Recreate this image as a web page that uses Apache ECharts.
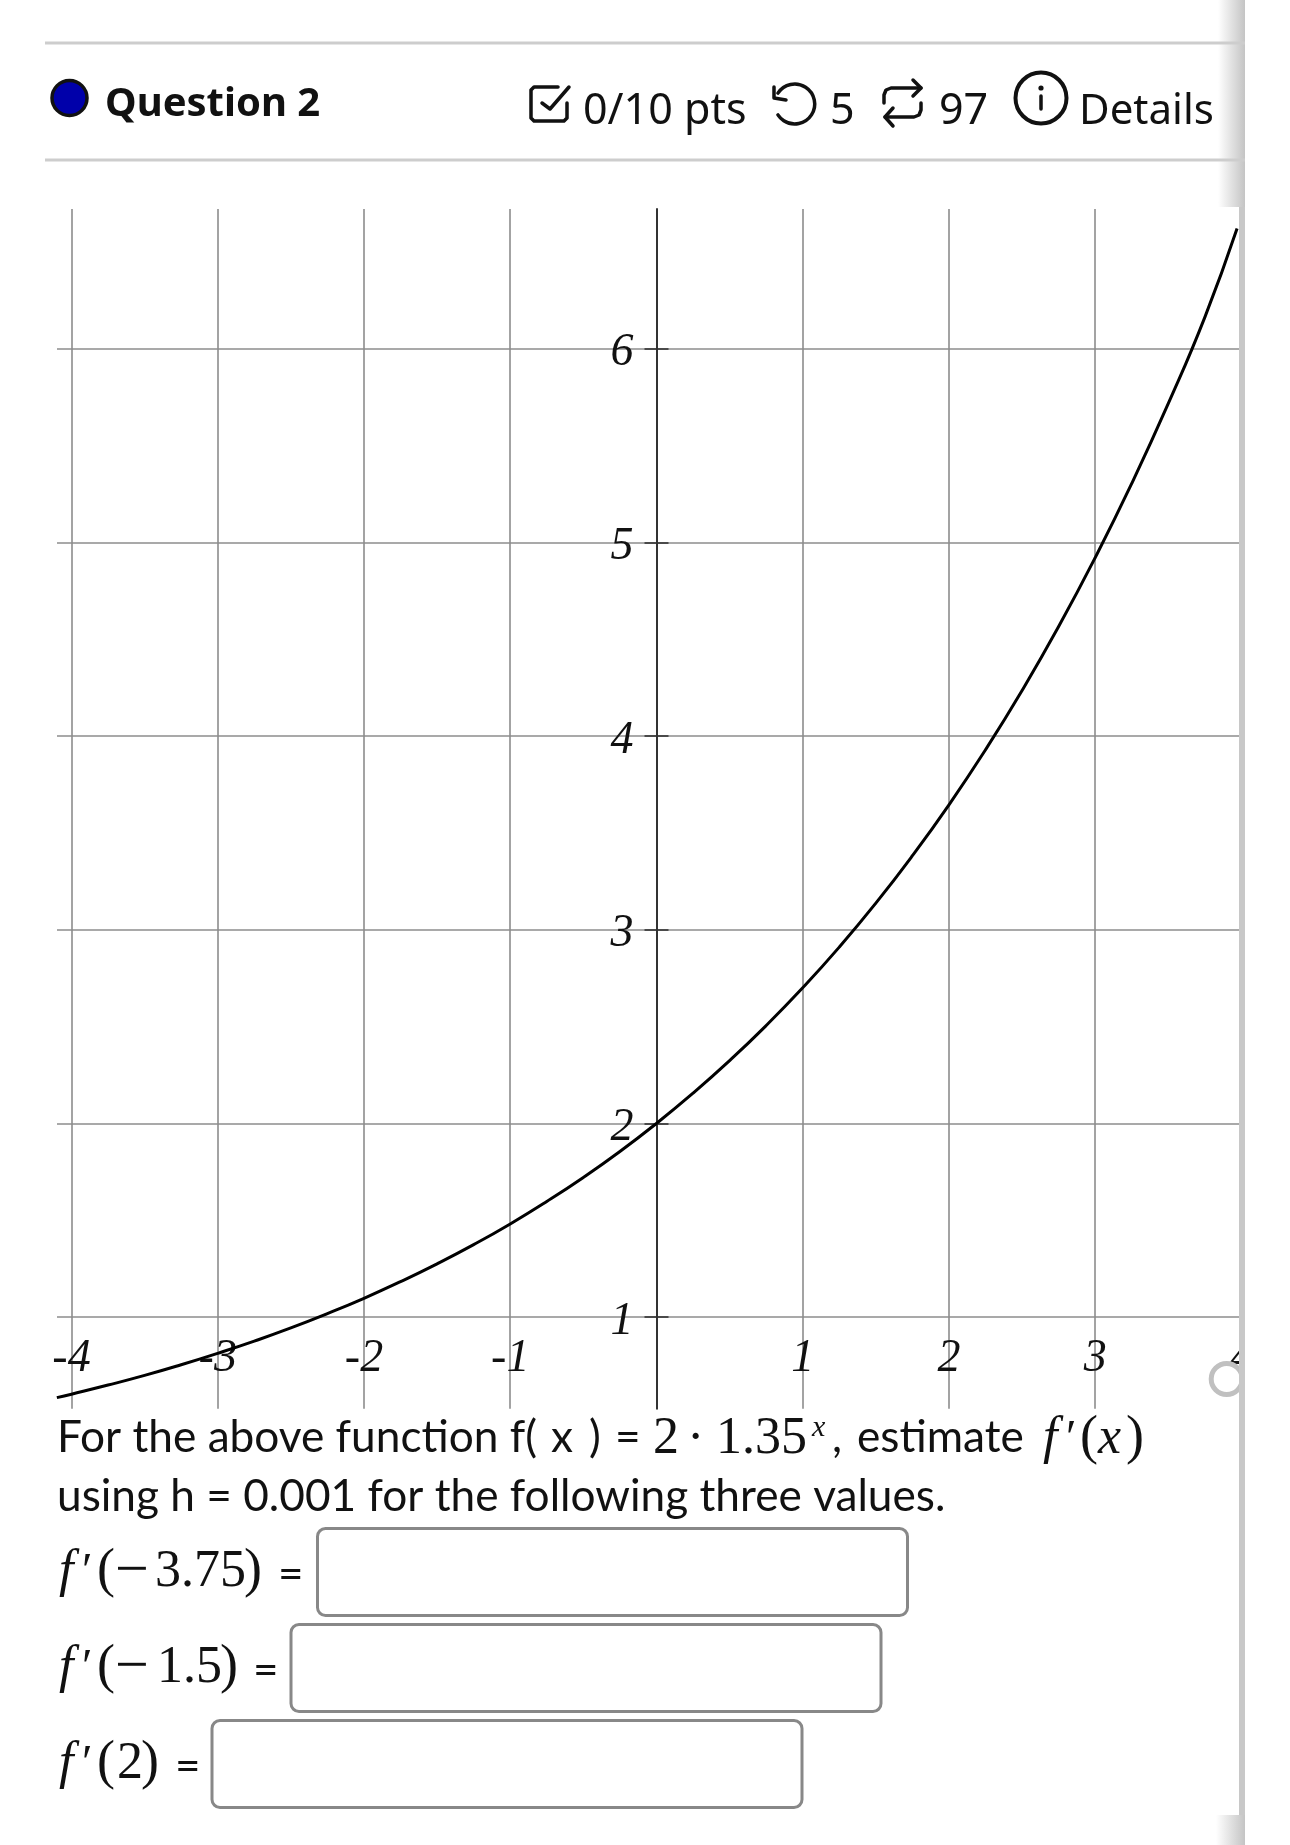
<!DOCTYPE html>
<html>
<head>
<meta charset="utf-8">
<style>html,body{margin:0;padding:0;background:#fff}#c{width:1290px;height:1845px}</style>
<script src="https://cdn.jsdelivr.net/npm/echarts@6/dist/echarts.min.js"></script>
</head>
<body>
<div id="c"></div>
<script>
const curveX = [-4.1,-4,-3.75,-3.5,-3.25,-3,-2.75,-2.5,-2.25,-2,-1.75,-1.5,-1.25,-1,-0.75,-0.5,-0.25,0,0.25,0.5,0.75,1,1.25,1.5,1.75,2,2.25,2.5,2.75,3,3.25,3.5,3.75,3.97];
const curveY = [0.584,0.602,0.649,0.699,0.754,0.813,0.876,0.944,1.018,1.097,1.183,1.275,1.374,1.481,1.597,1.721,1.855,2.000,2.156,2.324,2.505,2.700,2.910,3.137,3.382,3.645,3.929,4.235,4.565,4.921,5.304,5.717,6.163,6.620];
const xGridValues = [-4,-3,-2,-1,0,1,2,3,4];
const xLabelValues = [-4,-3,-2,-1,1,2,3,4];
const yGridValues = [1,2,3,4,5,6];

const UI = '"Noto Sans"', BODY = 'Lato', MATH = '"Liberation Serif"';
const Z = 50;
function t(text, x, baseline, size, font, opts) {
  opts = opts || {};
  const k = opts.k || (font === MATH ? 0.26 : 0.34);
  return {type:'text', z:Z, x:x, y:baseline - size*k,
    style:{text:text, font:(opts.style||'')+' '+(opts.weight||'')+' '+size+'px '+font, fill:'#111',
      textAlign:opts.align||'left', verticalAlign:'middle'}};
}
function icon(points, w) {
  return {type:'polyline', z:Z, shape:{points:points}, style:{fill:'none', stroke:'#111', lineWidth:w||3.5, lineCap:'round', lineJoin:'round'}};
}
function rule(y) {
  return {type:'rect', z:Z, shape:{x:45,y:y-1.5,width:1200,height:3}, style:{fill:'#cdcdcd'}};
}
function box(x,y,w,h) {
  return {type:'rect', z:Z, shape:{x:x,y:y,width:w,height:h,r:8}, style:{fill:'#fff',stroke:'#888',lineWidth:3}};
}
function fade(x,y,w,h) {
  return {type:'rect', z:Z-1, shape:{x:x,y:y,width:w,height:h},
    style:{fill:new echarts.graphic.LinearGradient(0,0,1,0,[{offset:0,color:'#ffffff'},{offset:1,color:'#c4c4c4'}])}};
}
function fPrime(b) {
  return [t('f', 59, b, 52, MATH, {style:'italic'}), t('′', 82, b, 48, MATH), t('(', 97, b, 54, MATH)];
}
const graphics = [
  {type:'rect', z:Z-2, shape:{x:1239,y:0,width:51,height:1845}, style:{fill:'#fff'}},
  {type:'rect', z:Z-1, shape:{x:1239,y:207,width:6,height:1608}, style:{fill:'#c8c8c8'}},
  fade(1218,0,27,207), fade(1216,1815,29,30),
  rule(43), rule(160),
  {type:'circle', z:Z, shape:{cx:69.5,cy:98,r:17.5}, style:{fill:'#0000aa',stroke:'#111',lineWidth:3.5}},
  t('Question 2', 105, 118, 40, UI, {weight:'bold'}),
  icon([[558,87],[534,87],[531,90],[531,118],[534,121],[564,121],[567,118],[567,103]]),
  icon([[542,103],[550,109],[569,87]]),
  t('0/10 pts', 583, 126, 43, UI),
  {type:'arc', z:Z, shape:{cx:794.7,cy:104,r:20,startAngle:213*Math.PI/180,endAngle:147*Math.PI/180,clockwise:true},
    style:{fill:'none',stroke:'#111',lineWidth:3.5,lineCap:'round'}},
  icon([[774,87],[774,98],[786,100]]),
  t('5', 830, 126, 43, UI),
  icon([[884,103],[884,95],[886,90],[891,88],[921,88]]),
  icon([[913,80],[921,88],[913,96]]),
  icon([[921,103],[921,110],[919,115],[914,117],[885,117]]),
  icon([[893,108],[885,117],[893,126]]),
  t('97', 939, 126, 43, UI),
  {type:'circle', z:Z, shape:{cx:1041,cy:98,r:25.5}, style:{fill:'none',stroke:'#111',lineWidth:4}},
  {type:'circle', z:Z, shape:{cx:1041,cy:88,r:2.6}, style:{fill:'#111'}},
  icon([[1041,96],[1041,109]],3.5),
  t('Details', 1079, 126, 42, UI),
  t('For the above function f(', 57, 1453, 44.2, BODY),
  t('x', 551, 1453, 44.2, BODY),
  t(')', 589, 1453, 44.2, BODY),
  t('=', 615, 1453, 44.2, BODY),
  t('2', 653, 1453, 52, MATH),
  t('·', 687, 1453, 52, MATH),
  t('1.35', 716, 1453, 52, MATH),
  t('x', 812, 1436, 30, MATH, {style:'italic'}),
  t(',', 832, 1453, 44.2, BODY),
  t('estimate', 857, 1453, 44.2, BODY),
  t('f', 1043, 1453, 52, MATH, {style:'italic'}),
  t('′', 1066, 1453, 48, MATH),
  t('(', 1080, 1453, 54, MATH),
  t('x', 1098, 1453, 52, MATH, {style:'italic'}),
  t(')', 1126, 1453, 54, MATH),
  t('using h = 0.001 for the following three values.', 57, 1512, 44.2, BODY),
  ...fPrime(1586),
  t('−', 115, 1588, 60, MATH), t('3.75', 155, 1586, 52, MATH), t(')', 244, 1586, 54, MATH),
  t('=', 278, 1590, 44, BODY),
  box(317.5,1528.5,590,87),
  ...fPrime(1682),
  t('−', 115, 1684, 60, MATH), t('1.5', 157, 1682, 52, MATH), t(')', 220, 1682, 54, MATH),
  t('=', 253, 1686, 44, BODY),
  box(291,1624.5,590,87),
  ...fPrime(1778),
  t('2', 117, 1778, 52, MATH), t(')', 141, 1778, 54, MATH),
  t('=', 175, 1782, 44, BODY),
  box(212,1720.5,590,87),
  {type:'circle', z:Z-3, shape:{cx:1226.7,cy:1379,r:15.5}, style:{fill:'#fff',stroke:'#c0c0c0',lineWidth:5}}
];

const tickFont = {fontFamily:'Liberation Serif', fontStyle:'italic', fontSize:46, color:'#111'};
const chart = echarts.init(document.getElementById('c'), null, {renderer:'canvas'});
chart.setOption({
  animation:false,
  backgroundColor:'#fff',
  grid:{left:57, top:209, width:1213.7, height:1199.7, containLabel:false},
  xAxis:{type:'value', min:-4.099, max:4.2, position:'bottom',
    axisLine:{show:false, onZero:false},
    axisTick:{show:false, customValues:xGridValues},
    axisLabel:Object.assign({show:true, customValues:xLabelValues, margin:-50, verticalAlign:'middle', hideOverlap:false,
      formatter:v=>String(v)}, tickFont),
    splitLine:{show:true, lineStyle:{color:'#8c8c8c', width:1.6}}},
  yAxis:[
    {type:'value', min:0.527, max:6.721, position:'left', offset:-599.5,
      axisLine:{show:true, onZero:false, lineStyle:{color:'#333', width:2}},
      axisTick:{show:true, length:12, customValues:yGridValues, lineStyle:{color:'#333', width:1.6}},
      axisLabel:Object.assign({show:true, customValues:yGridValues, margin:23, verticalAlign:'top', lineHeight:9, formatter:v=>String(v)}, tickFont),
      splitLine:{show:true, lineStyle:{color:'#8c8c8c', width:1.6}}},
    {type:'value', min:0.527, max:6.721, position:'right', offset:-614.2,
      axisLine:{show:false, onZero:false},
      axisTick:{show:true, length:12, customValues:yGridValues, lineStyle:{color:'#333', width:1.6}},
      axisLabel:{show:false}, splitLine:{show:false}}
  ],
  series:[{type:'line', yAxisIndex:0, z:10, data:curveX.map((x,i)=>[x,curveY[i]]), smooth:true, symbol:'none',
    lineStyle:{color:'#000', width:3}}],
  graphic:{elements:graphics}
});
</script>
</body>
</html>
